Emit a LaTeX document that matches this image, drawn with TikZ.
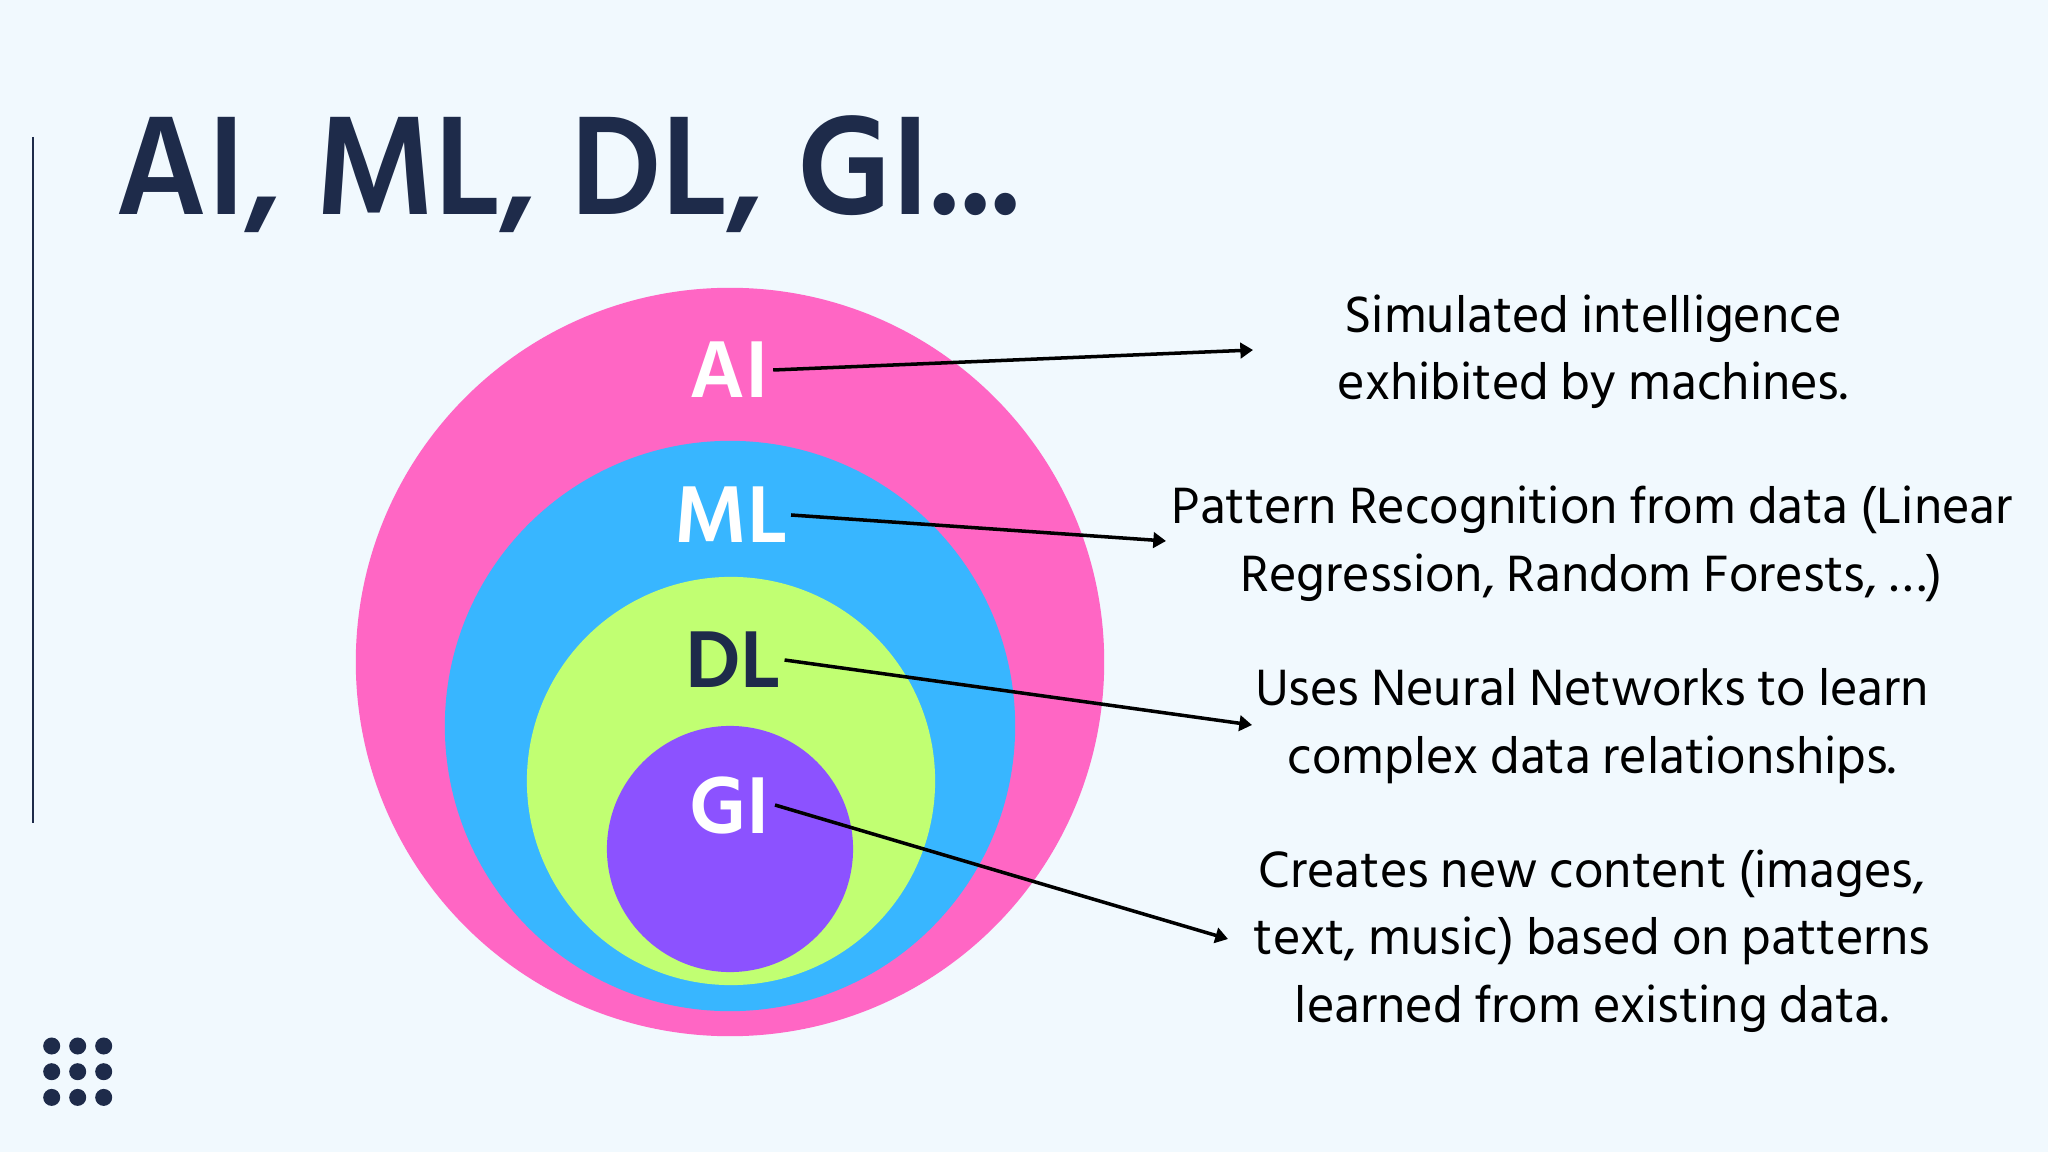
\documentclass[tikz,border=0pt]{standalone}
\usepackage{fontspec}
\usetikzlibrary{arrows.meta}
\newfontfamily\hind{Hind Siliguri}
\definecolor{bgc}{HTML}{F1F9FE}
\definecolor{navy}{HTML}{1E2B4A}
\definecolor{pinkc}{HTML}{FF66C4}
\definecolor{bluec}{HTML}{38B6FF}
\definecolor{limec}{HTML}{C1FF72}
\definecolor{purplec}{HTML}{8C52FF}
\begin{document}
\begin{tikzpicture}[x=0.01cm,y=-0.01cm,
  titlestyle/.style={font=\hind\bfseries\fontsize{41}{48}\selectfont, text=navy, inner sep=0pt, anchor=base west},
  lbl/.style={font=\hind\bfseries\fontsize{23.5}{28}\selectfont, inner sep=0pt},
  desc/.style={font=\hind\fontsize{14.9}{19.06}\selectfont, align=center, inner sep=0pt, anchor=base},
  conn/.style={line width=1pt, -{Triangle[length=3.6pt,width=4.4pt]}}]
\fill[bgc] (0,0) rectangle (2048,1152);
\useasboundingbox (0,0) rectangle (2048,1152);
% side rule
\draw[navy, line width=0.6pt] (33,137) -- (33,823);
% title
\node[titlestyle] (title) at (115,215) {\scalebox{0.944}[1]{AI, ML, DL, GI...}};
% nested circles
\fill[pinkc] (730,662) circle[radius=3.74cm];
\fill[bluec] (730,726) circle[radius=2.85cm];
\fill[limec] (731,781) circle[radius=2.04cm];
\fill[purplec] (730,849) circle[radius=1.23cm];
% labels
\node[lbl, text=white] (ai) at (729,370) {AI};
\node[lbl, text=white] (ml) at (731,515) {ML};
\node[lbl, text=navy] (dl) at (733,660) {DL};
\node[lbl, text=white] (gi) at (730,805) {GI};
% descriptions (anchored at the baseline of their last line)
\node[desc] (aidesc) at (1593,400) {Simulated intelligence\\exhibited by machines.};
\node[desc] (mldesc) at (1592,591) {Pattern Recognition from data (Linear\\Regression, Random Forests, …)};
\node[desc] (dldesc) at (1592,773) {Uses Neural Networks to learn\\complex data relationships.};
\node[desc] (gidesc) at (1592,1022) {Creates new content (images,\\text, music) based on patterns\\learned from existing data.};
% arrow ends
\coordinate (aiend) at (1253,350);
\coordinate (mlend) at (1166,541);
\coordinate (dlend) at (1252,725);
\coordinate (giend) at (1228,939);
\draw[conn] (ai.east) ++(4,0) -- (aiend);
\draw[conn] (ml.east) ++(3,0) -- (mlend);
\draw[conn] (dl.east) ++(3,0) -- (dlend);
\draw[conn] (gi.east) ++(4,0) -- (giend);
% dot grid
\foreach \i in {0,1,2}{
  \foreach \j in {0,1,2}{
    \fill[navy] (51.7+26*\i, 1046+25.7*\j) circle[radius=0.085cm];
  }
}
\end{tikzpicture}
\end{document}
